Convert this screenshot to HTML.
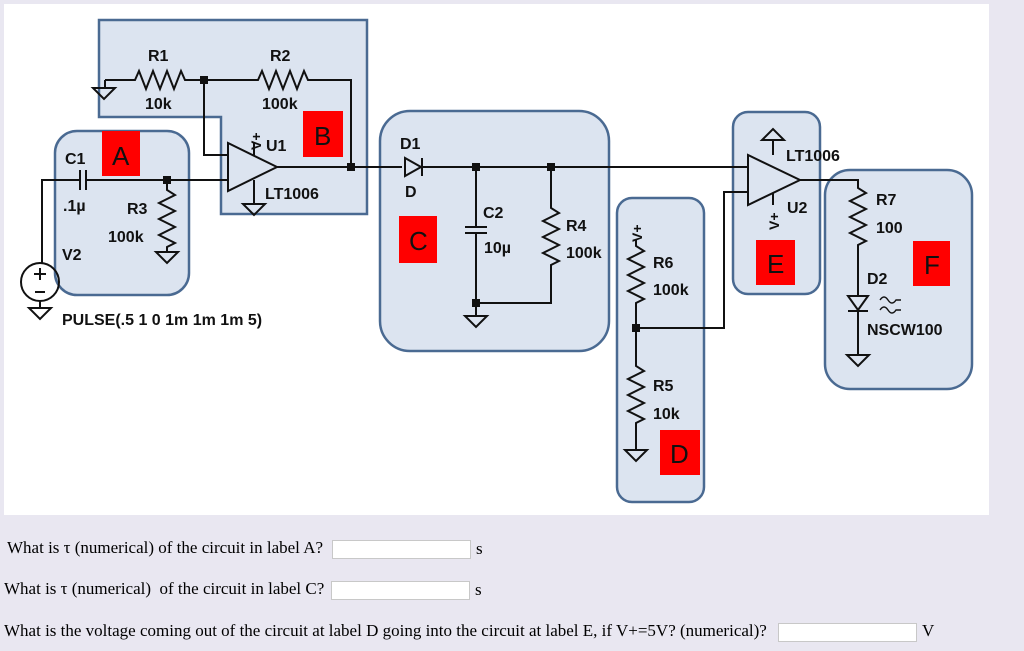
<!DOCTYPE html>
<html><head><meta charset="utf-8"><style>
html,body{margin:0;padding:0;width:1024px;height:651px;overflow:hidden;background:#e9e7f1;}
.q{position:absolute;font-family:"Liberation Serif",serif;font-size:17px;color:#000;white-space:nowrap;}
.box{position:absolute;height:17px;background:#fff;border:1px solid #c8c8c8;}
</style></head><body>
<svg width="1024" height="651" style="position:absolute;left:0;top:0" font-family="Liberation Sans, sans-serif" font-weight="bold">
<rect x="4" y="4" width="985" height="511" fill="#fff"/>
<g fill="#dce4f0" stroke="#4a6a92" stroke-width="2.5">
<polygon points="99,20 367,20 367,214 221,214 221,117 99,117"/>
<rect x="55" y="131" width="134" height="164" rx="22"/>
<rect x="380" y="111" width="229" height="240" rx="30"/>
<rect x="617" y="198" width="87" height="304" rx="15"/>
<rect x="733" y="112" width="87" height="182" rx="15"/>
<rect x="825" y="170" width="147" height="219" rx="25"/>
</g>
<g fill="none" stroke="#111" stroke-width="2">
<circle cx="40" cy="282" r="19"/>
<path d="M40,268 v12 M34,274 h12 M35,292 h10" stroke-width="2"/>
<path d="M42,263 V180 H80 M86,180 H228"/>
<path d="M80,170 V190 M86,170 V190"/>
<path d="M167,180 V190 l8,5 -16,8 16,8 -16,8 16,8 -16,8 16,8 -8,4 V252"/>
<path d="M156,252 h22 l-11,11 z"/>
<path d="M40,301 V308 M29,308 h22 l-11,11 z"/>
<path d="M228,143 V191 L277,167 Z"/>
<path d="M277,167 H402"/>
<path d="M204,80 V155 H228"/>
<path d="M105,80 H135 l4,-9 7,18 7,-18 7,18 7,-18 7,18 7,-18 4,9 H258 l4,-9 7,18 7,-18 7,18 7,-18 7,18 7,-18 4,9 H351 V167"/>
<path d="M105,80 V88 M93,88 h22 l-11,11 z"/>
<path d="M254,180 V204 M243,204 h22 l-11,11 z"/>
<path d="M254,155 V142"/>
<path d="M405,158 V176 L421,167 Z M422,158 V176"/>
<path d="M422,167 H748"/>
<path d="M476,167 V227 M465,227 h22 M465,233 h22 M476,233 V316 M465,316 h22 l-11,11 z"/>
<path d="M551,167 V208 l8,5 -16,8 16,8 -16,8 16,8 -16,8 16,8 -8,4 V303 H476"/>
<path d="M636,240 V246 l8,5 -16,8 16,8 -16,8 16,8 -16,8 16,8 -8,4 V366 l8,5 -16,8 16,8 -16,8 16,8 -16,8 16,8 -8,4 V450"/>
<path d="M625,450 h22 l-11,11 z"/>
<path d="M636,328 H724 V192 H748"/>
<path d="M748,155 V205 L800,180 Z"/>
<path d="M773,155 V140 M762,140 h22 l-11,-11 z"/>
<path d="M773,193 V205"/>
<path d="M800,180 H858 V188 l8,5 -16,8 16,8 -16,8 16,8 -16,8 16,8 -8,4 V296"/>
<path d="M848,296 h20 l-10,14 z M848,311 h20 M858,311 V355 M847,355 h22 l-11,11 z"/>
<path d="M880,300 q4,-6 8,0 t8,0 l5,0 M880,310 q4,-6 8,0 t8,0 l5,0" stroke-width="1.4"/>
</g>
<g fill="#111">
<rect x="163" y="176" width="8" height="8"/><rect x="200" y="76" width="8" height="8"/>
<rect x="347" y="163" width="8" height="8"/><rect x="472" y="163" width="8" height="8"/>
<rect x="547" y="163" width="8" height="8"/><rect x="472" y="299" width="8" height="8"/>
<rect x="632" y="324" width="8" height="8"/>
</g>
<g font-size="16" fill="#111">
<text x="148" y="61">R1</text><text x="270" y="61">R2</text>
<text x="145" y="109">10k</text><text x="262" y="109">100k</text>
<text x="65" y="164">C1</text><text x="63" y="211">.1µ</text>
<text x="127" y="214">R3</text><text x="108" y="242">100k</text>
<text x="62" y="260">V2</text>
<text x="62" y="325">PULSE(.5 1 0 1m 1m 1m 5)</text>
<text x="266" y="151">U1</text><text x="265" y="199">LT1006</text>
<text x="400" y="149">D1</text><text x="405" y="197">D</text>
<text x="483" y="218">C2</text><text x="484" y="253">10µ</text>
<text x="566" y="231">R4</text><text x="566" y="258">100k</text>
<text x="653" y="268">R6</text><text x="653" y="295">100k</text>
<text x="653" y="391">R5</text><text x="653" y="419">10k</text>
<text x="786" y="161">LT1006</text><text x="787" y="213">U2</text>
<text x="876" y="205">R7</text><text x="876" y="233">100</text>
<text x="867" y="284">D2</text><text x="867" y="335">NSCW100</text>
<text transform="translate(261,150) rotate(-90)" font-size="14">V+</text>
<text transform="translate(642,242) rotate(-90)" font-size="14">V+</text>
<text transform="translate(779,230) rotate(-90)" font-size="14">V+</text>
</g>
<g fill="red"><rect x="102" y="131" width="38" height="45"/><rect x="303" y="111" width="40" height="46"/>
<rect x="399" y="216" width="38" height="47"/><rect x="660" y="430" width="40" height="45"/>
<rect x="756" y="240" width="39" height="45"/><rect x="913" y="241" width="37" height="45"/></g>
<g font-size="26" font-weight="normal" fill="#111">
<text x="112" y="165">A</text><text x="314" y="145">B</text><text x="409" y="250">C</text>
<text x="670" y="463">D</text><text x="767" y="273">E</text><text x="924" y="274">F</text>
</g>
</svg>
<div class="q" style="left:7px;top:538px">What is τ (numerical) of the circuit in label A?</div>
<div class="box" style="left:332px;top:540px;width:137px"></div>
<div class="q" style="left:476px;top:539px">s</div>
<div class="q" style="left:4px;top:579px">What is τ (numerical)&nbsp; of the circuit in label C?</div>
<div class="box" style="left:331px;top:581px;width:137px"></div>
<div class="q" style="left:475px;top:580px">s</div>
<div class="q" style="left:4px;top:621px">What is the voltage coming out of the circuit at label D going into the circuit at label E, if V+=5V? (numerical)?</div>
<div class="box" style="left:778px;top:623px;width:137px"></div>
<div class="q" style="left:922px;top:621px">V</div>
</body></html>
